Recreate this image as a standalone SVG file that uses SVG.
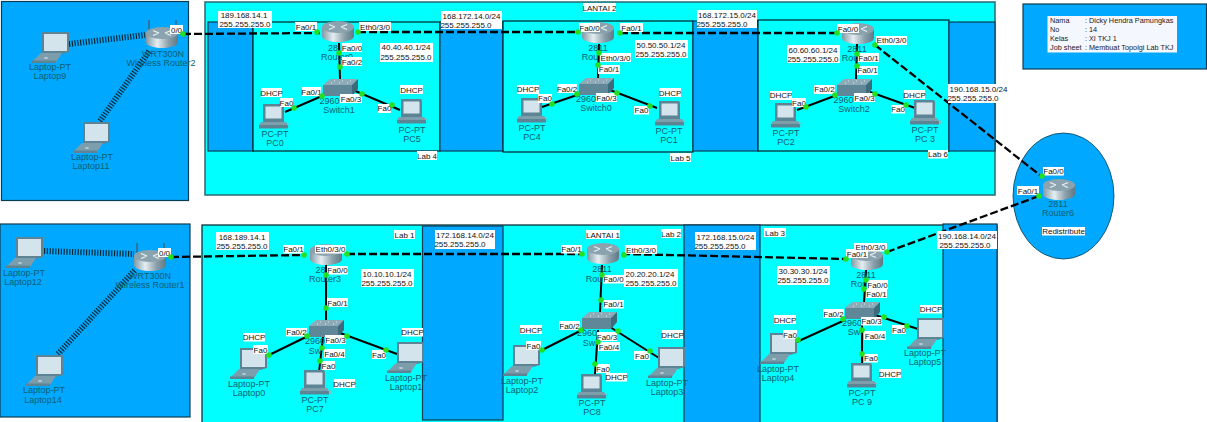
<svg xmlns="http://www.w3.org/2000/svg" width="1207" height="422" viewBox="0 0 1207 422">
<style>
text{font-family:"Liberation Sans",Arial,sans-serif}
.zb{fill:#00a8ff;stroke:#0c3c52;stroke-width:1.2}
.zc{fill:#00ffff;stroke:#06202a;stroke-width:1.2}
.zk{stroke:#06202a;stroke-width:1.2}
.fl{fill:#00ffff;stroke:#2a6a72;stroke-width:1.5}
.n{font-size:9px;fill:#0d5f70;text-anchor:middle}
.l{font-size:8px;fill:#111;text-anchor:middle}
.lb{fill:#fff}
.s{stroke:#000;stroke-width:2;fill:none}
.d{stroke:#000;stroke-width:2.3;fill:none;stroke-dasharray:8 3}
.w{stroke:#0a2a36;stroke-width:6;fill:none;stroke-dasharray:1.2 1.6}
.g{fill:#22e022}
.i{font-size:7.3px;fill:#222}
</style>
<defs>
<linearGradient id="rg" x1="0" x2="1" y1="0" y2="0"><stop offset="0" stop-color="#7f98a3"/><stop offset=".35" stop-color="#e6eef2"/><stop offset=".7" stop-color="#8aa0aa"/><stop offset="1" stop-color="#5f7a86"/></linearGradient>
<g id="router">
<path d="M0 6V15C0 18.500 7 21 16 21S32 18.500 32 15V6Z" fill="url(#rg)"/>
<ellipse cx="16" cy="6" rx="16" ry="6" fill="#8ba3ae"/>
<path d="M7 3.500L13 6M25 3.500L19 6M7 8.500L13 6M25 8.500L19 6" stroke="#e9f2f5" stroke-width="1.3"/>
</g>
<g id="wrouter">
<path d="M4 0V10M31 0V10" stroke="#3e5b66" stroke-width="1.2"/>
<use href="#router" x="1" y="7"/>
</g>
<g id="switch">
<path d="M7 0H35L29 6H0Z" fill="#8daab6"/>
<path d="M0 6H29V17H0Z" fill="#5f8798"/>
<path d="M29 6L35 0V10L29 17Z" fill="#3f6a7b"/>
<path d="M11 2h1M19 2h1M27 2h1M8 4h1M16 4h1M24 4h1" stroke="#dcecf2"/>
</g>
<g id="pc">
<path d="M4 0H24L25 2V18H4Z" fill="#5d8494"/>
<rect x="6.500" y="2.500" width="16" height="12" fill="#d3e4ec"/>
<path d="M2 18H27L29 21H0Z" fill="#7d9eab"/>
<path d="M0 21H29V24.500H0Z" fill="#5d8494"/>
<path d="M28 21C31 19 31 22 30 24" stroke="#8fb0bc" fill="none"/>
</g>
<g id="laptop">
<path d="M10 0H37V20L30 22H10Z" fill="#5d8494"/>
<rect x="12" y="2" width="23" height="17" fill="#d3e4ec"/>
<path d="M9 21H30L24 30H0Z" fill="#7c9dab"/>
<path d="M0 28.500H24V31H0Z" fill="#5d8494"/>
<ellipse cx="14" cy="26" rx="2" ry="1" fill="#b7ced7"/>
</g>
</defs>

<rect width="1207" height="422" fill="#fff"/>

<g id="zones">
<rect class="zb" x="1.500" y="1.500" width="187" height="199"/>
<rect class="fl" x="205" y="2" width="790" height="193"/>
<rect class="zb" x="208" y="22" width="45" height="129"/>
<rect class="zc" x="253" y="22" width="187" height="129"/>
<rect class="zb" x="440" y="22" width="63" height="129"/>
<rect class="zc" x="503" y="21" width="190" height="131"/>
<rect class="zb" x="693" y="21" width="65" height="130"/>
<rect class="zc" x="758" y="20" width="191" height="131"/>
<rect class="zb" x="949" y="22" width="46" height="129"/>
<rect class="zb" x="0" y="224" width="190" height="193"/>
<rect class="zc" x="202" y="225" width="795" height="198"/>
<rect class="zb" x="422.500" y="226" width="80.500" height="194"/>
<rect class="zb" x="684" y="225" width="76" height="198"/>
<rect class="zb" x="943" y="224" width="54" height="199"/>
<ellipse class="zb" cx="1063.500" cy="196" rx="50.500" ry="63" style="stroke-width:.8"/>
<rect class="zb" x="1023" y="4" width="183.500" height="65"/>
</g>

<g id="connectors">
<path class="w" d="M69 44L145 35M100 121L150 50M44 251L134 254M58 354L135 270"/>
<path class="d" d="M183 34L320 33M358 32L578 32M620 33L837 33M875 45L1041 176M1039 196L887 252M171 257L304 255M347 254L582 254M622 254L846 259"/>
<path class="s" d="M339 43L340 79M322 96L285 112M353 90L400 110M599 44L598 78M580 94L542 107M610 90L657 108M857 44L856 79M837 95L797 110M870 92L915 108M326 265L326 320M308 336L263 358M323 337L319 372M340 333L397 354M602 265L600 312M584 329L538 352M598 330L595 374M610 327L659 358M866 270L864 302M845 320L790 345M862 322L862 363M875 315L918 329"/>
</g>

<g id="laptop9"><use href="#laptop" x="32" y="32"/><text class="n" x="50" y="70">Laptop-PT</text><text class="n" x="50" y="79">Laptop9</text></g>
<g id="laptop11"><use href="#laptop" x="73" y="122"/><text class="n" x="92" y="160">Laptop-PT</text><text class="n" x="91" y="169">Laptop11</text></g>
<g id="wireless-router2"><use href="#wrouter" x="145" y="20"/><text class="n" x="163" y="57">WRT300N</text><text class="n" x="161" y="66">Wireless Router2</text></g>
<g id="laptop12"><use href="#laptop" x="6" y="237"/><text class="n" x="24" y="276">Laptop-PT</text><text class="n" x="23" y="285">Laptop12</text></g>
<g id="laptop14"><use href="#laptop" x="26" y="355"/><text class="n" x="44" y="393">Laptop-PT</text><text class="n" x="43" y="403">Laptop14</text></g>
<g id="wireless-router1"><use href="#wrouter" x="133" y="243"/><text class="n" x="150" y="279">WRT300N</text><text class="n" x="150" y="288">Wireless Router1</text></g>

<g id="router0"><use href="#router" x="322" y="21"/><text class="n" x="333" y="51">28</text><text class="n" x="337" y="60">Router0</text></g>
<g id="switch1"><use href="#switch" x="323" y="79"/><text class="n" x="329.500" y="104">2960</text><text class="n" x="339" y="113">Switch1</text></g>
<g id="pc0"><use href="#pc" x="259" y="104"/><text class="n" x="275" y="137">PC-PT</text><text class="n" x="275" y="146">PC0</text></g>
<g id="pc5"><use href="#pc" x="397" y="99"/><text class="n" x="412" y="133">PC-PT</text><text class="n" x="412" y="142">PC5</text></g>
<g id="router1"><use href="#router" x="582" y="22"/><text class="n" x="598" y="51">2811</text><text class="n" x="590" y="60">Rou</text></g>
<g id="switch0"><use href="#switch" x="579" y="78"/><text class="n" x="586" y="102">2960</text><text class="n" x="596" y="111">Switch0</text></g>
<g id="pc4"><use href="#pc" x="517" y="98"/><text class="n" x="532" y="131">PC-PT</text><text class="n" x="532" y="140">PC4</text></g>
<g id="pc1"><use href="#pc" x="655" y="101"/><text class="n" x="669" y="134">PC-PT</text><text class="n" x="669" y="143">PC1</text></g>
<g id="router2"><use href="#router" x="842" y="23"/><text class="n" x="857" y="52">2811</text><text class="n" x="850" y="61">Rou</text></g>
<g id="switch2"><use href="#switch" x="837" y="79"/><text class="n" x="843.500" y="103">2960</text><text class="n" x="854" y="112">Switch2</text></g>
<g id="pc2"><use href="#pc" x="771" y="103"/><text class="n" x="786" y="136">PC-PT</text><text class="n" x="786" y="145">PC2</text></g>
<g id="pc3"><use href="#pc" x="910" y="100"/><text class="n" x="925" y="133">PC-PT</text><text class="n" x="925" y="142">PC 3</text></g>

<g id="router3"><use href="#router" x="310" y="244"/><text class="n" x="320.500" y="273">28</text><text class="n" x="325" y="282">Router3</text></g>
<g id="switch3"><use href="#switch" x="309" y="320"/><text class="n" x="315" y="344">2960</text><text class="n" x="315" y="354">Sw</text></g>
<g id="laptop0"><use href="#laptop" x="230" y="348"/><text class="n" x="249" y="387">Laptop-PT</text><text class="n" x="249" y="396">Laptop0</text></g>
<g id="pc7"><use href="#pc" x="300" y="370"/><text class="n" x="315" y="403">PC-PT</text><text class="n" x="315" y="412">PC7</text></g>
<g id="laptop1"><use href="#laptop" x="387" y="342"/><text class="n" x="406" y="381">Laptop-PT</text><text class="n" x="406" y="390">Laptop1</text></g>
<g id="router4"><use href="#router" x="587" y="243"/><text class="n" x="602" y="272">2811</text><text class="n" x="594" y="282">Rou</text></g>
<g id="switch4"><use href="#switch" x="582" y="312"/><text class="n" x="587" y="336">2960</text><text class="n" x="590" y="346">Swi</text></g>
<g id="laptop2"><use href="#laptop" x="503" y="345"/><text class="n" x="522" y="384">Laptop-PT</text><text class="n" x="522" y="393">Laptop2</text></g>
<g id="pc8"><use href="#pc" x="577" y="374"/><text class="n" x="592" y="406">PC-PT</text><text class="n" x="592" y="415">PC8</text></g>
<g id="laptop3"><use href="#laptop" x="648" y="347"/><text class="n" x="667" y="386">Laptop-PT</text><text class="n" x="667" y="395">Laptop3</text></g>
<g id="router5"><use href="#router" x="851" y="249"/><text class="n" x="866" y="278">2811</text><text class="n" x="859" y="287">Rou</text></g>
<g id="switch5"><use href="#switch" x="845" y="302"/><text class="n" x="852" y="326">2960</text><text class="n" x="855" y="335">Swi</text></g>
<g id="laptop4"><use href="#laptop" x="760" y="333"/><text class="n" x="778" y="372">Laptop-PT</text><text class="n" x="778" y="381">Laptop4</text></g>
<g id="pc9"><use href="#pc" x="847" y="363"/><text class="n" x="862" y="396">PC-PT</text><text class="n" x="862" y="405">PC 9</text></g>
<g id="laptop5"><use href="#laptop" x="907" y="318"/><text class="n" x="925" y="356">Laptop-PT</text><text class="n" x="925" y="365">Laptop5</text></g>
<g id="router6"><use href="#router" x="1043" y="179"/><text class="n" x="1058" y="207">2811</text><text class="n" x="1058" y="216">Router6</text></g>

<g id="labels">
<rect class="lb" x="170" y="25" width="13" height="9"/><text class="l" x="176.500" y="32.500">0/0</text>
<rect class="lb" x="158" y="248" width="13" height="9"/><text class="l" x="164.500" y="255.500">0/0</text>

<rect class="lb" x="218" y="11" width="54" height="17"/><text class="l" x="244" y="18">189.168.14.1</text><text class="l" x="245" y="27">255.255.255.0</text>
<rect class="lb" x="295" y="22" width="22" height="9"/><text class="l" x="306" y="29.500">Fa0/1</text>
<rect class="lb" x="359" y="22" width="32" height="9"/><text class="l" x="375" y="29.500">Eth0/3/0</text>
<rect class="lb" x="342" y="43" width="20" height="9"/><text class="l" x="352" y="50.500">Fa0/0</text>
<rect class="lb" x="342" y="57" width="20" height="9"/><text class="l" x="352" y="64.500">Fa0/2</text>
<rect class="lb" x="380" y="43" width="53" height="19"/><text class="l" x="406" y="50">40.40.40.1/24</text><text class="l" x="406" y="60">255.255.255.0</text>
<rect class="lb" x="302" y="87" width="19" height="9"/><text class="l" x="311.500" y="94.500">Fa0/1</text>
<rect class="lb" x="340" y="94" width="22" height="9"/><text class="l" x="351" y="101.500">Fa0/3</text>
<rect class="lb" x="261" y="88" width="21" height="9"/><text class="l" x="271.500" y="95.500">DHCP</text>
<rect class="lb" x="280" y="98" width="13" height="9"/><text class="l" x="286.500" y="105.500">Fa0</text>
<rect class="lb" x="378" y="104" width="13" height="9"/><text class="l" x="384.500" y="111">Fa0</text>
<rect class="lb" x="400" y="85" width="23" height="9"/><text class="l" x="411.500" y="92.500">DHCP</text>
<rect class="lb" x="417" y="151" width="20" height="9"/><text class="l" x="427" y="158.500">Lab 4</text>

<rect class="lb" x="583" y="3" width="33" height="9"/><text class="l" x="599.500" y="10.500">LANTAI 2</text>
<rect class="lb" x="441" y="11" width="61" height="18"/><text class="l" x="471.500" y="18.500">168.172.14.0/24</text><text class="l" x="466" y="27.500">255.255.255.0</text>
<rect class="lb" x="579" y="23" width="21" height="9"/><text class="l" x="589.500" y="30.500">Fa0/0</text>
<rect class="lb" x="620" y="23" width="23" height="9"/><text class="l" x="631.500" y="30.500">Fa0/1</text>
<rect class="lb" x="635" y="40" width="53" height="18"/><text class="l" x="661" y="47.500">50.50.50.1/24</text><text class="l" x="661" y="56.500">255.255.255.0</text>
<rect class="lb" x="697" y="10" width="60" height="18"/><text class="l" x="727" y="17.500">168.172.15.0/24</text><text class="l" x="722" y="26.500">255.255.255.0</text>
<rect class="lb" x="600" y="53" width="31" height="9"/><text class="l" x="615.500" y="60.500">Eth0/3/0</text>
<rect class="lb" x="598" y="65" width="22" height="9"/><text class="l" x="609" y="72">Fa0/1</text>
<rect class="lb" x="557" y="84" width="20" height="9"/><text class="l" x="567" y="91.500">Fa0/2</text>
<rect class="lb" x="596" y="93" width="21" height="9"/><text class="l" x="606.500" y="100.500">Fa0/3</text>
<rect class="lb" x="517" y="85" width="22" height="9"/><text class="l" x="528" y="92">DHCP</text>
<rect class="lb" x="538" y="94" width="14" height="9"/><text class="l" x="545" y="101">Fa0</text>
<rect class="lb" x="659" y="88" width="22" height="9"/><text class="l" x="670" y="95.500">DHCP</text>
<rect class="lb" x="634" y="106" width="15" height="8.500"/><text class="l" x="641.500" y="113">Fa0</text>
<rect class="lb" x="670" y="153" width="21" height="9"/><text class="l" x="680.500" y="160.500">Lab 5</text>

<rect class="lb" x="787" y="45" width="53" height="18"/><text class="l" x="813" y="52.500">60.60.60.1/24</text><text class="l" x="813" y="61.500">255.255.255.0</text>
<rect class="lb" x="770" y="91" width="22" height="9"/><text class="l" x="781" y="98">DHCP</text>
<rect class="lb" x="792" y="98" width="14" height="9"/><text class="l" x="799" y="105.500">Fa0</text>
<rect class="lb" x="814" y="85" width="21" height="9"/><text class="l" x="824.500" y="92">Fa0/2</text>
<rect class="lb" x="854" y="93" width="21" height="9"/><text class="l" x="864.500" y="100.500">Fa0/3</text>
<rect class="lb" x="837" y="24" width="22" height="9"/><text class="l" x="848" y="31.500">Fa0/0</text>
<rect class="lb" x="876" y="36" width="31" height="9"/><text class="l" x="891.500" y="43">Eth0/3/0</text>
<rect class="lb" x="858" y="53" width="21" height="9"/><text class="l" x="868.500" y="60.500">Fa0/1</text>
<rect class="lb" x="857" y="66" width="21" height="9"/><text class="l" x="867.500" y="73">Fa0/1</text>
<rect class="lb" x="904" y="90" width="21" height="9"/><text class="l" x="914.500" y="97.500">DHCP</text>
<rect class="lb" x="891" y="105" width="14" height="8.500"/><text class="l" x="898" y="112">Fa0</text>
<rect class="lb" x="948" y="84" width="61" height="19"/><text class="l" x="978.500" y="91.500">190.168.15.0/24</text><text class="l" x="973" y="101">255.255.255.0</text>
<rect class="lb" x="928" y="150" width="20" height="8.500"/><text class="l" x="938" y="157">Lab 6</text>
<rect class="lb" x="1043" y="167" width="21" height="8.500"/><text class="l" x="1053.500" y="174">Fa0/0</text>
<rect class="lb" x="1017" y="186" width="22" height="9"/><text class="l" x="1028" y="193.500">Fa0/1</text>
<rect class="lb" x="1042" y="227" width="43" height="8.500"/><text class="l" x="1063.500" y="234">Redistribute</text>

<rect class="lb" x="216" y="232" width="53" height="18"/><text class="l" x="242" y="239.500">168.189.14.1</text><text class="l" x="242" y="248.500">255.255.255.0</text>
<rect class="lb" x="394" y="230" width="21" height="9"/><text class="l" x="404.500" y="237.500">Lab 1</text>
<rect class="lb" x="283" y="245" width="21" height="8.500"/><text class="l" x="293.500" y="252">Fa0/1</text>
<rect class="lb" x="315" y="245" width="31" height="8.500"/><text class="l" x="330.500" y="252">Eth0/3/0</text>
<rect class="lb" x="327" y="266" width="21" height="8.500"/><text class="l" x="337.500" y="273">Fa0/0</text>
<rect class="lb" x="361" y="269" width="53" height="18"/><text class="l" x="387" y="276.500">10.10.10.1/24</text><text class="l" x="387" y="285.500">255.255.255.0</text>
<rect class="lb" x="327" y="298" width="21" height="9"/><text class="l" x="337.500" y="305.500">Fa0/1</text>
<rect class="lb" x="286" y="328" width="21" height="8.500"/><text class="l" x="296.500" y="335">Fa0/2</text>
<rect class="lb" x="325" y="335" width="21" height="9"/><text class="l" x="335.500" y="342.500">Fa0/3</text>
<rect class="lb" x="324" y="349" width="21" height="9"/><text class="l" x="334.500" y="356.500">Fa0/4</text>
<rect class="lb" x="322" y="361" width="13" height="9"/><text class="l" x="328.500" y="368.500">Fa0</text>
<rect class="lb" x="243" y="333" width="22" height="8.500"/><text class="l" x="254" y="340">DHCP</text>
<rect class="lb" x="253" y="345" width="15" height="9"/><text class="l" x="260.500" y="352.500">Fa0</text>
<rect class="lb" x="402" y="328" width="21" height="8.500"/><text class="l" x="412.500" y="335">DHCP</text>
<rect class="lb" x="372" y="350" width="14" height="9"/><text class="l" x="379" y="357.500">Fa0</text>
<rect class="lb" x="334" y="379" width="21" height="9"/><text class="l" x="344.500" y="386.500">DHCP</text>

<rect class="lb" x="435" y="230" width="60" height="19"/><text class="l" x="465" y="237.500">172.168.14.0/24</text><text class="l" x="460" y="247">255.255.255.0</text>
<rect class="lb" x="586" y="230" width="34" height="9"/><text class="l" x="603" y="237.500">LANTAI 1</text>
<rect class="lb" x="661" y="229" width="20" height="9"/><text class="l" x="671" y="236.500">Lab 2</text>
<rect class="lb" x="561" y="245" width="21" height="8.500"/><text class="l" x="571.500" y="252">Fa0/1</text>
<rect class="lb" x="625" y="245" width="32" height="9"/><text class="l" x="641" y="252.500">Eth0/3/0</text>
<rect class="lb" x="695" y="232" width="61" height="18"/><text class="l" x="725.500" y="239.500">172.168.15.0/24</text><text class="l" x="720" y="248.500">255.255.255.0</text>
<rect class="lb" x="764" y="228" width="22" height="9"/><text class="l" x="775" y="235.500">Lab 3</text>
<rect class="lb" x="624" y="269" width="54" height="18"/><text class="l" x="650" y="276.500">20.20.20.1/24</text><text class="l" x="651" y="285.500">255.255.255.0</text>
<rect class="lb" x="603" y="275" width="21" height="8.500"/><text class="l" x="613.500" y="282">Fa0/0</text>
<rect class="lb" x="603" y="300" width="21" height="8.500"/><text class="l" x="613.500" y="307">Fa0/1</text>
<rect class="lb" x="559" y="321" width="21" height="9"/><text class="l" x="569.500" y="328.500">Fa0/2</text>
<rect class="lb" x="597" y="332" width="20" height="9"/><text class="l" x="607" y="339.500">Fa0/3</text>
<rect class="lb" x="598" y="342" width="22" height="9"/><text class="l" x="609" y="349.500">Fa0/4</text>
<rect class="lb" x="596" y="364" width="14" height="9"/><text class="l" x="603" y="371.500">Fa0</text>
<rect class="lb" x="520" y="325" width="22" height="9"/><text class="l" x="531" y="332.500">DHCP</text>
<rect class="lb" x="526" y="341" width="15" height="9"/><text class="l" x="533.500" y="348.500">Fa0</text>
<rect class="lb" x="662" y="330" width="21" height="9"/><text class="l" x="672.500" y="337.500">DHCP</text>
<rect class="lb" x="634" y="351" width="16" height="9"/><text class="l" x="642" y="358.500">Fa0</text>
<rect class="lb" x="606" y="373" width="21" height="8.500"/><text class="l" x="616.500" y="380">DHCP</text>

<rect class="lb" x="777" y="266" width="53" height="19"/><text class="l" x="803" y="273.500">30.30.30.1/24</text><text class="l" x="803" y="283">255.255.255.0</text>
<rect class="lb" x="774" y="315" width="22" height="9"/><text class="l" x="785" y="322.500">DHCP</text>
<rect class="lb" x="783" y="330" width="14" height="9"/><text class="l" x="790" y="337.500">Fa0</text>
<rect class="lb" x="937" y="231" width="60" height="18"/><text class="l" x="967" y="238.500">190.168.14.0/24</text><text class="l" x="965" y="247.500">255.255.255.0</text>
<rect class="lb" x="846" y="249" width="22" height="9"/><text class="l" x="857" y="256.500">Fa0/1</text>
<rect class="lb" x="854" y="243" width="33" height="8.500"/><text class="l" x="870.500" y="250">Eth0/3/0</text>
<rect class="lb" x="867" y="280" width="21" height="9"/><text class="l" x="877.500" y="287.500">Fa0/0</text>
<rect class="lb" x="866" y="289" width="21" height="9"/><text class="l" x="876.500" y="296.500">Fa0/1</text>
<rect class="lb" x="823" y="309" width="21" height="9"/><text class="l" x="833.500" y="316.500">Fa0/2</text>
<rect class="lb" x="861" y="317" width="21" height="8.500"/><text class="l" x="871.500" y="324">Fa0/3</text>
<rect class="lb" x="864" y="331" width="22" height="9"/><text class="l" x="875" y="338.500">Fa0/4</text>
<rect class="lb" x="864" y="354" width="14" height="8.500"/><text class="l" x="871" y="361">Fa0</text>
<rect class="lb" x="879" y="369" width="22" height="9"/><text class="l" x="890" y="376.500">DHCP</text>
<rect class="lb" x="920" y="305" width="22" height="8.500"/><text class="l" x="931" y="312">DHCP</text>
<rect class="lb" x="892" y="325" width="14" height="9"/><text class="l" x="899" y="332.500">Fa0</text>
</g>

<g id="info">
<rect x="1047.500" y="16" width="129.500" height="36.500" fill="#f5f7ff"/>
<text class="i" x="1050" y="23">Nama</text><text class="i" x="1085" y="23">:</text><text class="i" x="1089" y="23">Dicky Hendra Pamungkas</text>
<text class="i" x="1050" y="32">No</text><text class="i" x="1085" y="32">:</text><text class="i" x="1089" y="32">14</text>
<text class="i" x="1050" y="41">Kelas</text><text class="i" x="1085" y="41">:</text><text class="i" x="1089" y="41">XI TKJ 1</text>
<text class="i" x="1050" y="50">Job sheet</text><text class="i" x="1085" y="50">:</text><text class="i" x="1089" y="50">Membuat Topolgi Lab TKJ</text>
</g>

<g id="ports" class="g">
<circle cx="183" cy="34" r="2.800"/><circle cx="317" cy="32" r="2.800"/><circle cx="358" cy="32" r="2.800"/><circle cx="339" cy="53" r="2.800"/><circle cx="340" cy="67" r="2.800"/><circle cx="322" cy="96" r="2.800"/><circle cx="294" cy="108" r="2.800"/><circle cx="362" cy="94" r="2.800"/><circle cx="392" cy="105" r="2.800"/>
<circle cx="578" cy="32" r="2.800"/><circle cx="620" cy="33" r="2.800"/><circle cx="599" cy="53" r="2.800"/><circle cx="598" cy="65" r="2.800"/><circle cx="577" cy="94" r="2.800"/><circle cx="552" cy="104" r="2.800"/><circle cx="617" cy="93" r="2.800"/><circle cx="650" cy="106" r="2.800"/>
<circle cx="837" cy="33" r="2.800"/><circle cx="875" cy="45" r="2.800"/><circle cx="857" cy="54" r="2.800"/><circle cx="857" cy="66" r="2.800"/><circle cx="835" cy="95" r="2.800"/><circle cx="806" cy="107" r="2.800"/><circle cx="875" cy="94" r="2.800"/><circle cx="906" cy="105" r="2.800"/>
<circle cx="1042" cy="176" r="2.800"/><circle cx="1039" cy="196" r="2.800"/>
<circle cx="171" cy="257" r="2.800"/><circle cx="304" cy="255" r="2.800"/><circle cx="347" cy="254" r="2.800"/><circle cx="326" cy="275" r="2.800"/><circle cx="326" cy="308" r="2.800"/><circle cx="307" cy="336" r="2.800"/><circle cx="269" cy="355" r="2.800"/><circle cx="322" cy="348" r="2.800"/><circle cx="320" cy="361" r="2.800"/><circle cx="347" cy="336" r="2.800"/><circle cx="386" cy="350" r="2.800"/>
<circle cx="582" cy="254" r="2.800"/><circle cx="624" cy="255" r="2.800"/><circle cx="602" cy="275" r="2.800"/><circle cx="601" cy="300" r="2.800"/><circle cx="581" cy="330" r="2.800"/><circle cx="542" cy="350" r="2.800"/><circle cx="598" cy="342" r="2.800"/><circle cx="595" cy="364" r="2.800"/><circle cx="618" cy="331" r="2.800"/><circle cx="650" cy="351" r="2.800"/>
<circle cx="846" cy="259" r="2.800"/><circle cx="887" cy="252" r="2.800"/><circle cx="866" cy="280" r="2.800"/><circle cx="864" cy="289" r="2.800"/><circle cx="843" cy="319" r="2.800"/><circle cx="798" cy="340" r="2.800"/><circle cx="862" cy="330" r="2.800"/><circle cx="862" cy="354" r="2.800"/><circle cx="884" cy="317" r="2.800"/><circle cx="907" cy="326" r="2.800"/>
</g>
</svg>
